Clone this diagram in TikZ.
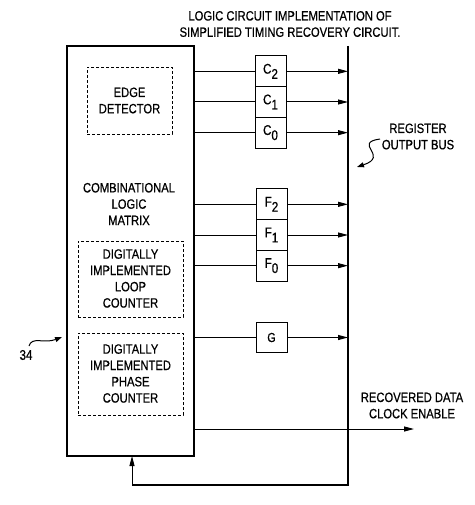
\documentclass[tikz,border=0pt]{standalone}
\usepackage{fontspec}
\setmainfont[FakeStretch=0.83,FakeBold=0.6]{Liberation Sans}
\usetikzlibrary{arrows.meta}
\begin{document}
\begin{tikzpicture}[x=1pt,y=-1pt,
  txt/.style={font=\fontsize{13.5}{16.3}\selectfont, align=center, inner sep=0pt},
  mainbox/.style={draw, line width=1.2pt, minimum width=127pt, minimum height=410pt, inner sep=0pt},
  dashbox/.style={draw, line width=0.8pt, dash pattern=on 3pt off 2pt, inner sep=0pt},
  regbox/.style={draw, line width=1pt, minimum width=31pt, minimum height=30.67pt, inner sep=0pt, font=\fontsize{14}{15}\selectfont},
  wire/.style={line width=1pt},
  arr/.style={line width=1pt, -{Triangle[length=10pt,width=5pt]}},
]
\useasboundingbox (0,0) rectangle (474,505);

% title
\node[txt] (title) at (290,24) {LOGIC CIRCUIT IMPLEMENTATION OF\\SIMPLIFIED TIMING RECOVERY CIRCUIT.};

% main block
\node[mainbox] (main) at (130.5,251) {};
\node[dashbox, minimum width=85pt, minimum height=67pt] (edgebox) at (129.5,100.5) {};
\node[txt] (edgetxt) at (129.5,100.5) {EDGE\\DETECTOR};
\node[txt] (combtxt) at (129,204) {COMBINATIONAL\\LOGIC\\MATRIX};
\node[dashbox, minimum width=105pt, minimum height=76pt] (loopbox) at (130.5,279) {};
\node[txt] (looptxt) at (130.5,278.5) {DIGITALLY\\IMPLEMENTED\\LOOP\\COUNTER};
\node[dashbox, minimum width=105pt, minimum height=82pt] (phasebox) at (130.5,374) {};
\node[txt] (phasetxt) at (130.5,373.5) {DIGITALLY\\IMPLEMENTED\\PHASE\\COUNTER};

% bus
\coordinate (bustop) at (348,46);
\coordinate (busbot) at (348,485);
\coordinate (fbcorner) at (132,485);
\coordinate (fbend) at (132,456);
\draw[line width=1.2pt] (bustop) -- (busbot) -- (fbcorner);
\draw[arr] (fbcorner) -- (fbend);

% registers
\node[regbox] (c2) at (270.5,71.33) {C\raisebox{-0.7ex}{2}};
\node[regbox] (c1) at (270.5,102) {C\raisebox{-0.7ex}{1}};
\node[regbox] (c0) at (270.5,132.67) {C\raisebox{-0.7ex}{0}};
\node[regbox] (f2) at (271.5,204.33) {F\raisebox{-0.7ex}{2}};
\node[regbox] (f1) at (271.5,235) {F\raisebox{-0.7ex}{1}};
\node[regbox] (f0) at (271.5,265.67) {F\raisebox{-0.7ex}{0}};
\node[regbox, font=\fontsize{13}{14}\selectfont] (g) at (271.5,337.5) {G};

\foreach \r in {c2,c1,c0,f2,f1,f0,g}{
  \draw[wire] (main.east |- \r) -- (\r.west);
  \draw[arr] (\r.east) -- (\r -| bustop);
}

% recovered data clock enable
\coordinate (rdend) at (414,429);
\draw[arr] (main.east |- rdend) -- (rdend);
\node[txt] (rdtxt) at (412,405.5) {RECOVERED DATA\\CLOCK ENABLE};

% register output bus label
\node[txt] (regtxt) at (418,136.5) {REGISTER\\OUTPUT BUS};
\coordinate (sqs) at (380,139);
\coordinate (sqe) at (357,167);
\draw[line width=1pt, -{Triangle[length=7pt,width=5pt]}] (sqs) .. controls (352,143) and (390,156) .. (sqe);

% reference numeral
\node[txt, font=\fontsize{14}{15}\selectfont] (ref34) at (26,355) {34};
\coordinate (r34s) at (29,346);
\coordinate (r34e) at (62,337);
\draw[line width=1pt, -{Triangle[length=7pt,width=5pt]}] (r34s) .. controls (32,336) and (44,344) .. (r34e);
\end{tikzpicture}
\end{document}
